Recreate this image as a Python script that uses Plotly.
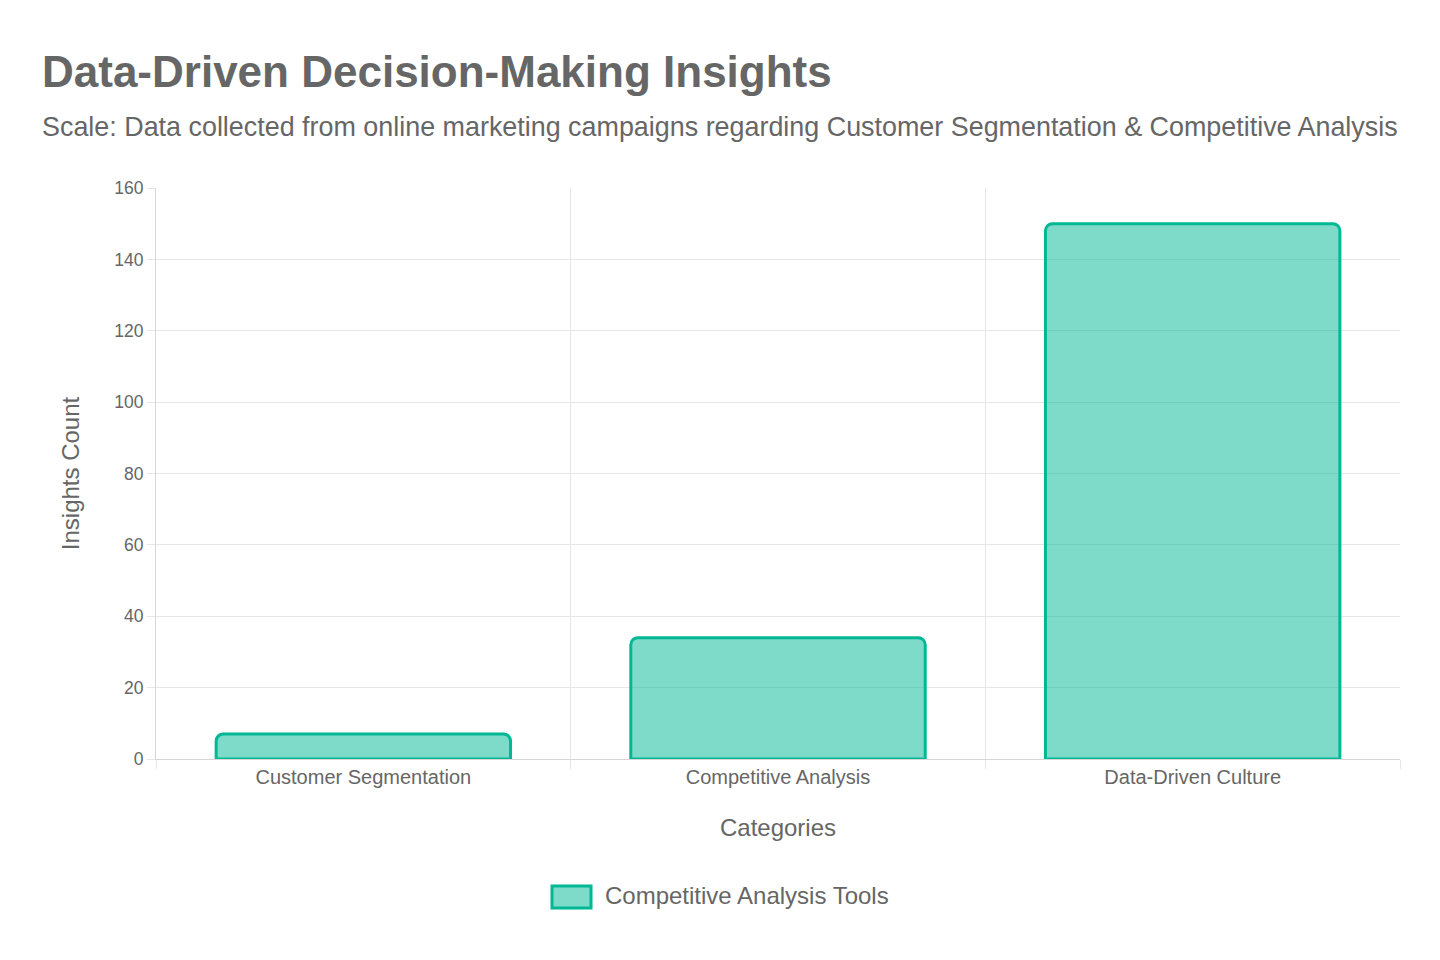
import plotly.graph_objects as go

# chart data
categories = ["Customer Segmentation", "Competitive Analysis", "Data-Driven Culture"]
insightsCount = [7, 34, 150]
seriesName = "Competitive Analysis Tools"

yTicks = [0, 20, 40, 60, 80, 100, 120, 140, 160]

titleText = "Data-Driven Decision-Making Insights"
subtitleText = "Scale: Data collected from online marketing campaigns regarding Customer Segmentation & Competitive Analysis"

textColor = "#666666"
gridColor = "#e6e6e6"
fillColor = "rgba(0,184,148,0.5)"
borderColor = "#00b894"
fontFamily = "Liberation Sans, Arial, Helvetica, sans-serif"

# figure pixel geometry (page has an 8px body margin)
W, H = 1440, 960
ML, MR, MT, MB = 148, 48, 180, 209
plotW = W - ML - MR
plotH = H - MT - MB

def px(xpix):
    return (xpix - ML) / plotW

def py(ypix):
    return (H - MB - ypix) / plotH

fig = go.Figure()
fig.add_trace(go.Bar(
    x=categories,
    y=insightsCount,
    name=seriesName,
    width=0.71,
    marker=dict(color=fillColor, line=dict(color=borderColor, width=3), cornerradius=7),
    showlegend=False,
))

fig.update_layout(
    width=W, height=H,
    paper_bgcolor="white", plot_bgcolor="white",
    font=dict(family=fontFamily, color=textColor),
    margin=dict(l=ML, r=MR, t=MT, b=MB),
    title=dict(text="<b>" + titleText + "</b>", x=34 / W, xanchor="left", xref="container",
               y=1 - 64 / H, yanchor="middle", yref="container",
               font=dict(size=44, color=textColor, family=fontFamily)),
    annotations=[
        dict(text=subtitleText, x=px(32), xanchor="left", xref="paper",
             y=py(119), yanchor="middle", yref="paper", showarrow=False,
             font=dict(size=26.9, color=textColor)),
        # legend label
        dict(text=seriesName, x=px(595), xanchor="left", xref="paper",
             y=py(887), yanchor="middle", yref="paper", showarrow=False,
             font=dict(size=24, color=textColor)),
    ],
    shapes=[
        # legend swatch
        dict(type="rect", xref="paper", yref="paper",
             x0=px(544), x1=px(583), y0=py(878), y1=py(900),
             fillcolor=fillColor, line=dict(color=borderColor, width=3)),
    ],
)

fig.update_xaxes(
    tickson="boundaries", showgrid=True, gridcolor=gridColor, gridwidth=1,
    ticks="outside", ticklen=9, tickcolor=gridColor,
    showline=True, linecolor="#d6d6d6", mirror=False,
    tickfont=dict(size=20, color=textColor),
    title=dict(text="Categories", font=dict(size=24, color=textColor), standoff=32),
)
fig.update_yaxes(
    range=[0, 160], tickvals=yTicks, showgrid=True, gridcolor=gridColor, gridwidth=1,
    ticks="outside", ticklen=8, tickcolor=gridColor,
    showline=True, linecolor="#d6d6d6", zeroline=False,
    tickfont=dict(size=17.5, color=textColor),
    title=dict(text="Insights Count", font=dict(size=24, color=textColor), standoff=27),
)

fig.write_html("out.html")
